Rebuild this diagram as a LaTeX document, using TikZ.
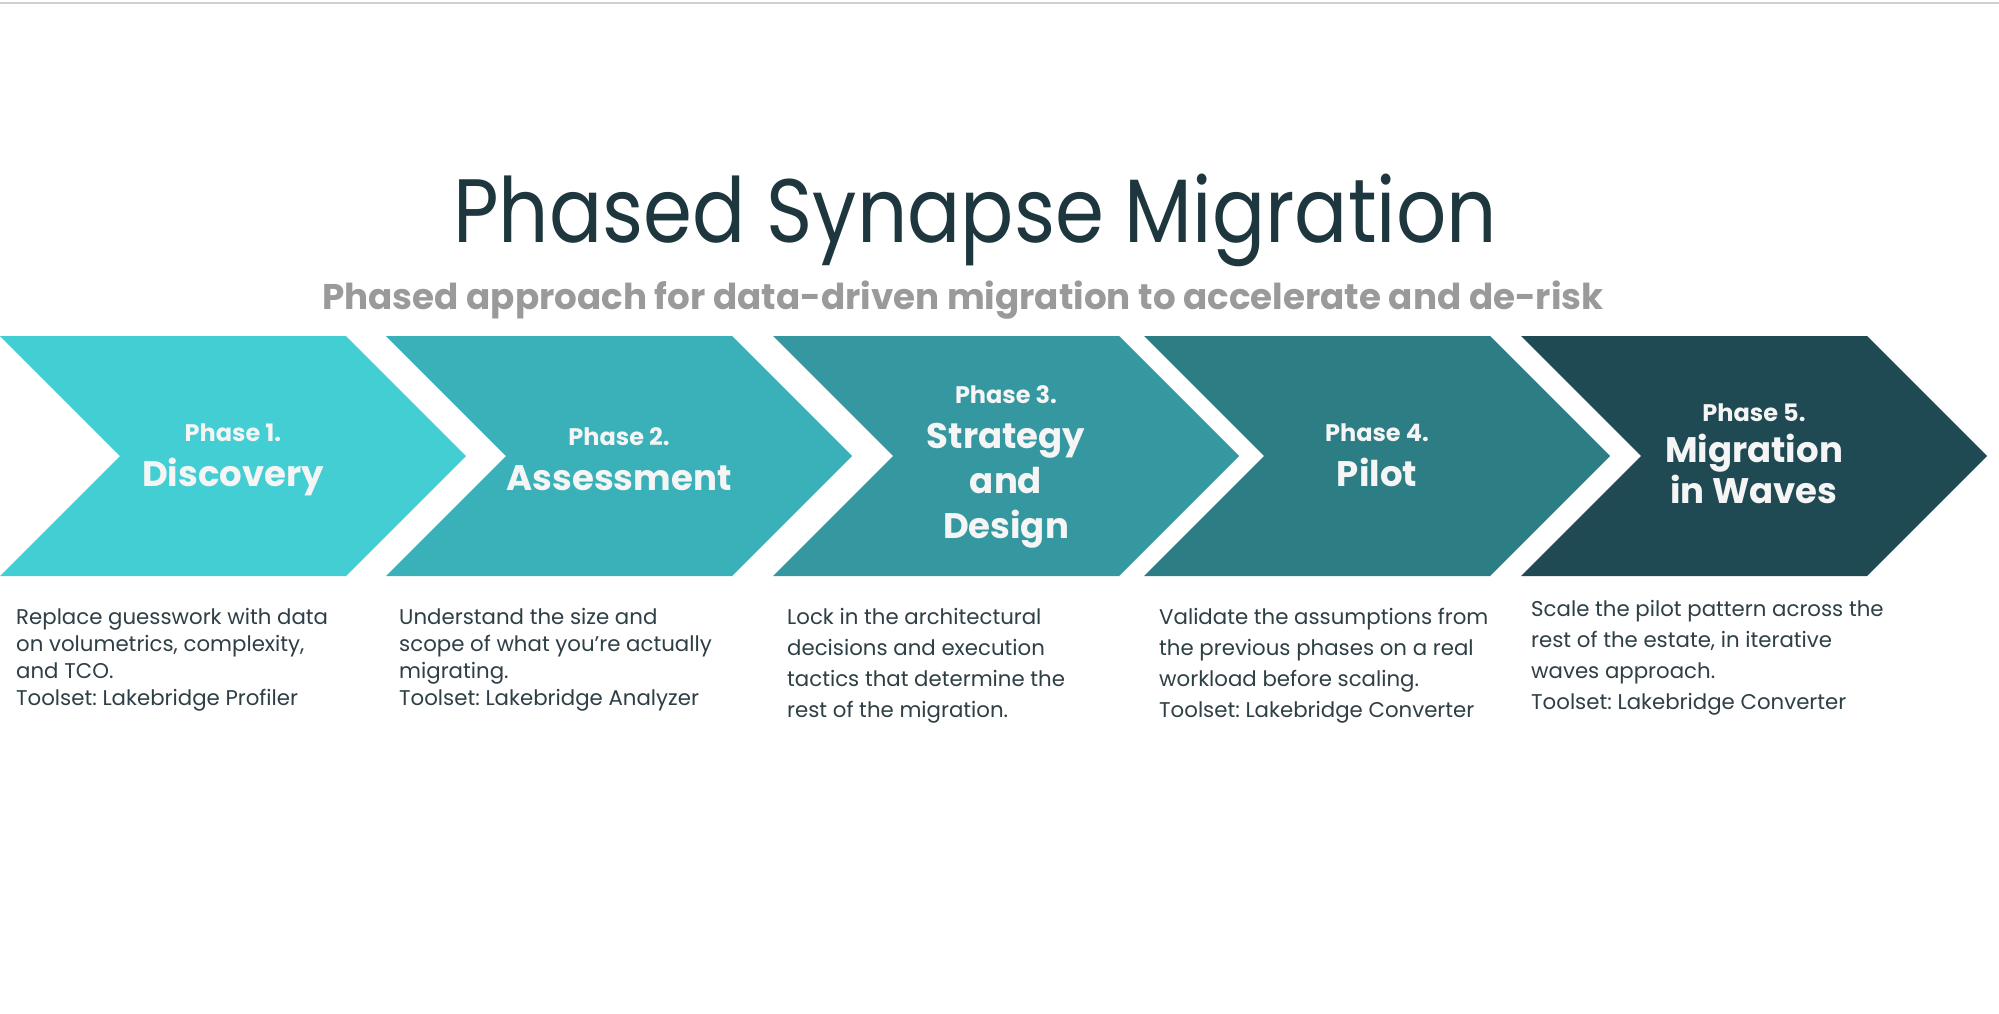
\documentclass[tikz,border=0pt]{standalone}
\usepackage{fontspec}
\setmainfont{Poppins}
\newfontfamily\headfont{Poppins}[FakeStretch=0.875]
\usetikzlibrary{positioning}
\frenchspacing
\definecolor{ink}{HTML}{1E363D}
\definecolor{body}{HTML}{2E3F45}
\definecolor{grey}{HTML}{9A9A9A}
\definecolor{rule}{HTML}{D0D0D0}
\definecolor{chalk}{HTML}{F5F5F5}
\definecolor{pa}{HTML}{43CED3}
\definecolor{pb}{HTML}{3AB1B9}
\definecolor{pc}{HTML}{3598A0}
\definecolor{pd}{HTML}{2C7D84}
\definecolor{pe}{HTML}{204A53}
\tikzset{
  title/.style={font=\headfont\fontsize{90}{100}\selectfont,text=ink,inner sep=0pt,anchor=base},
  sub/.style={font=\fontsize{35.7}{40}\selectfont\bfseries,text=grey,inner sep=0pt,anchor=base},
  phase/.style={font=\fontsize{35.5}{45}\selectfont\bfseries,text=chalk,align=center,inner sep=0pt},
  snug/.style={font=\fontsize{35.5}{41}\selectfont\bfseries},
  note/.style={font=\fontsize{21.3}{27}\selectfont,text=body,align=left,inner sep=0pt,anchor=north west},
  wide/.style={font=\fontsize{21.3}{31}\selectfont},
}
\newcommand{\ptag}[1]{{\fontsize{24}{45}\selectfont Phase #1.}}

\begin{document}
\begin{tikzpicture}[x=1pt,y=-1pt]
  \useasboundingbox[fill=white] (0,0) rectangle (1999,1013);
  \draw[rule,line width=1.5pt] (0,3) -- (1999,3);

  \node[title] (head) at (975,242) {Phased Synapse Migration};
  \node[sub] (tag) at (963,309) {Phased approach for data-driven migration to accelerate and de-risk};

  % the five arrows
  \foreach \lx/\col in {0/pa,386/pb,773/pc,1144/pd,1521/pe}
    \fill[\col] (\lx,336) -- ++(346,0) -- ++(120,120) -- ++(-120,120)
      -- ++(-346,0) -- ++(120,-120) -- cycle;

  \node[phase] (ph1) at (233,460) {\ptag{1}\\Discovery};
  \node[phase] (ph2) at (619,459) {\ptag{2}\\Assessment};
  \node[phase] (ph3) at (1006,467) {\ptag{3}\\Strategy\\and\\Design};
  \node[phase] (ph4) at (1377,455) {\ptag{4}\\Pilot};
  \node[phase,snug] (ph5) at (1754,454) {\ptag{5}\\Migration\\in Waves};

  % what each phase does
  \node[note] (d1) at (16,608) {Replace guesswork with data\\on volumetrics, complexity,\\and TCO.\\Toolset: Lakebridge Profiler};
  \node[note] (d2) at (399,608) {Understand the size and\\scope of what you're actually\\migrating.\\Toolset: Lakebridge Analyzer};
  \node[note,wide] (d3) at (787,608) {Lock in the architectural\\decisions and execution\\tactics that determine the\\rest of the migration.};
  \node[note,wide] (d4) at (1159,608) {Validate the assumptions from\\the previous phases on a real\\workload before scaling.\\Toolset: Lakebridge Converter};
  \node[note,wide] (d5) at (1531,600) {Scale the pilot pattern across the\\rest of the estate, in iterative\\waves approach.\\Toolset: Lakebridge Converter};
\end{tikzpicture}
\end{document}
